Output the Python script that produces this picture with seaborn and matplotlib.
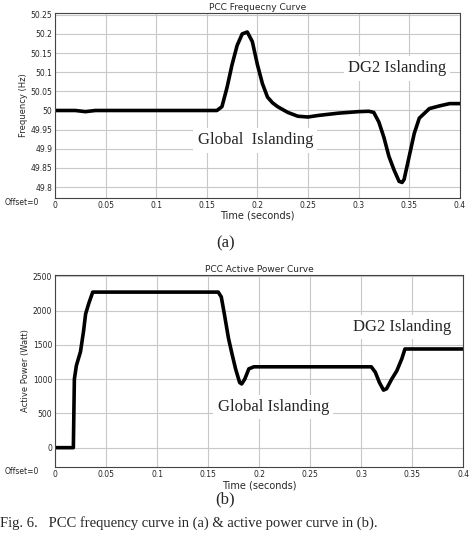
import matplotlib
matplotlib.use("Agg")
import matplotlib.pyplot as plt
import seaborn as sns
import pandas as pd

t_freq = [0, 0.02, 0.03, 0.04, 0.05, 0.1, 0.15, 0.16, 0.165, 0.17, 0.175, 0.18, 0.185, 0.19, 0.195,
          0.2, 0.205, 0.21, 0.215, 0.22, 0.23, 0.24, 0.25, 0.26, 0.27, 0.28, 0.29, 0.3, 0.31, 0.315,
          0.32, 0.325, 0.33, 0.335, 0.34, 0.343, 0.345, 0.35, 0.355, 0.36, 0.37, 0.38, 0.39, 0.4]
freq = [50.0, 50.0, 49.997, 50.0, 50.0, 50.0, 50.0, 50.0, 50.01, 50.06, 50.12, 50.17, 50.2, 50.205, 50.18,
        50.12, 50.07, 50.035, 50.02, 50.01, 49.995, 49.985, 49.983, 49.987, 49.99, 49.993, 49.995, 49.997, 49.998, 49.995,
        49.97, 49.93, 49.88, 49.845, 49.815, 49.812, 49.82, 49.88, 49.94, 49.98, 50.005, 50.012, 50.018, 50.018]

t_pow = [0, 0.018, 0.019, 0.021, 0.025, 0.028, 0.03, 0.033, 0.037, 0.05, 0.1, 0.16, 0.163, 0.166, 0.17,
         0.173, 0.177, 0.181, 0.183, 0.186, 0.19, 0.195, 0.25, 0.31, 0.314, 0.318, 0.322, 0.325, 0.33,
         0.335, 0.34, 0.343, 0.4]
power = [0, 0, 1000, 1200, 1400, 1700, 1950, 2100, 2270, 2270, 2270, 2270, 2200, 1950, 1600,
         1400, 1150, 950, 930, 1000, 1150, 1180, 1180, 1180, 1100, 950, 840, 860, 1000,
         1120, 1300, 1440, 1440]

x_ticks = [0, 0.05, 0.1, 0.15, 0.2, 0.25, 0.3, 0.35, 0.4]
x_labels = ["0", "0.05", "0.1", "0.15", "0.2", "0.25", "0.3", "0.35", "0.4"]
f_ticks = [49.8, 49.85, 49.9, 49.95, 50.0, 50.05, 50.1, 50.15, 50.2, 50.25]
f_labels = ["49.8", "49.85", "49.9", "49.95", "50", "50.05", "50.1", "50.15", "50.2", "50.25"]
p_ticks = [0, 500, 1000, 1500, 2000, 2500]
p_labels = ["0", "500", "1000", "1500", "2000", "2500"]

sns.set_style("whitegrid", {"grid.color": "#c8c8c8", "axes.edgecolor": "#444444"})
plt.rcParams["font.family"] = ["DejaVu Sans"]

fig = plt.figure(figsize=(4.74, 5.36), dpi=100)
ax1 = fig.add_axes([0.116, 0.631, 0.854, 0.345])
ax2 = fig.add_axes([0.116, 0.129, 0.861, 0.358])

df1 = pd.DataFrame({"t": t_freq, "f": freq})
df2 = pd.DataFrame({"t": t_pow, "p": power})
sns.lineplot(data=df1, x="t", y="f", ax=ax1, color="black", lw=2.6)
sns.lineplot(data=df2, x="t", y="p", ax=ax2, color="black", lw=2.6)

serif = ["Liberation Serif", "DejaVu Serif"]
for ax, yt, yl, ylab, title, lim in [
        (ax1, f_ticks, f_labels, "Frequency (Hz)", "PCC Frequecny Curve", (49.772, 50.255)),
        (ax2, p_ticks, p_labels, "Active Power (Watt)", "PCC Active Power Curve", (-280, 2520))]:
    ax.set_xlim(0, 0.4)
    ax.set_ylim(*lim)
    ax.set_xticks(x_ticks)
    ax.set_xticklabels(x_labels, fontsize=5.5)
    ax.set_yticks(yt)
    ax.set_yticklabels(yl, fontsize=5.5)
    ax.set_xlabel("Time (seconds)", fontsize=7, labelpad=1)
    ax.set_ylabel(ylab, fontsize=6, labelpad=2)
    ax.set_title(title, fontsize=6.5, pad=2)
    ax.tick_params(pad=2, length=0)
    for s in ax.spines.values():
        s.set_linewidth(0.8)

box = dict(facecolor="white", edgecolor="none", pad=3)
ax1.text(0.198, 49.922, "Global  Islanding", fontsize=12, family=serif, ha="center", va="center", bbox=box)
ax1.text(0.338, 50.11, "DG2 Islanding", fontsize=12, family=serif, ha="center", va="center", bbox=box)
ax2.text(0.214, 590, "Global Islanding", fontsize=12, family=serif, ha="center", va="center", bbox=box)
ax2.text(0.34, 1760, "DG2 Islanding", fontsize=12, family=serif, ha="center", va="center", bbox=box)

fig.text(0.01, 0.617, "Offset=0", fontsize=5.5)
fig.text(0.01, 0.116, "Offset=0", fontsize=5.5)
fig.text(0.475, 0.545, "(a)", fontsize=12, family=serif, ha="center", va="center")
fig.text(0.475, 0.068, "(b)", fontsize=12, family=serif, ha="center", va="center")
fig.text(0.0, 0.012, "Fig. 6.   PCC frequency curve in (a) & active power curve in (b).",
         fontsize=10.5, family=serif, ha="left", va="bottom")

fig.savefig("out.png", dpi=100)
